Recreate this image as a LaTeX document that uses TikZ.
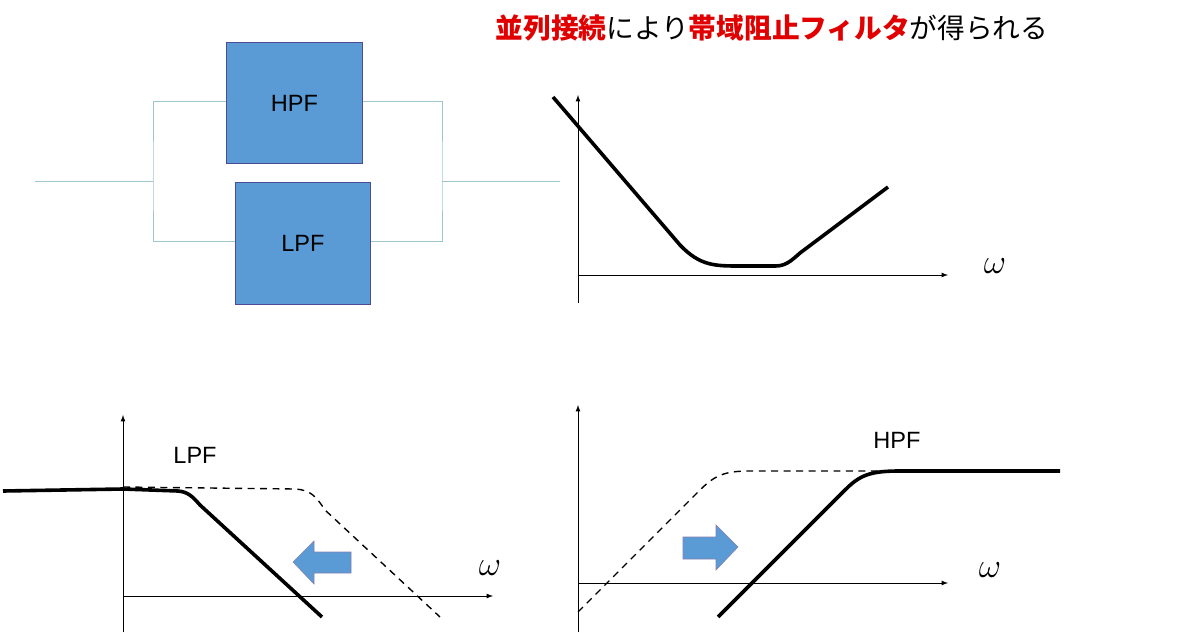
\documentclass[tikz,border=0pt]{standalone}
\usepackage{fontspec}
\setmainfont{Liberation Sans}
\newfontfamily\cjk{Noto Sans CJK JP}
\begin{document}
\begin{tikzpicture}[x=0.01in,y=-0.01in,
  blk/.style={draw=blue!40!black!70, fill=boxblue, line width=0.6pt, anchor=north west, inner sep=0pt},
  wire/.style={draw=wirec, line width=0.6pt},
  ax/.style={draw=black, line width=0.6pt, -latex},
  curve/.style={line width=2.6pt, line join=round},
  dashline/.style={line width=1pt, dash pattern=on 5pt off 4pt},
  lbl/.style={font=\fontsize{17}{17}\selectfont},
  om/.style={font=\fontsize{26}{26}\selectfont},
  fat/.style={fill=boxblue, draw=blue!40!black!50, line width=0.4pt}]
\definecolor{boxblue}{HTML}{5B9BD5}
\definecolor{wirec}{HTML}{9FC6CC}
\definecolor{tred}{HTML}{E00000}
\useasboundingbox (0,0) rectangle (1200,633);
\node[font=\cjk\fontsize{20}{20}\selectfont] (title) at (772,28) {\textcolor{tred}{\textbf{並列接続}}により\textcolor{tred}{\textbf{帯域阻止フィルタ}}が得られる};
\node[blk, minimum width=1.36in, minimum height=1.21in] (hpf) at (226,42) {};
\node[lbl] at (hpf.center) {HPF};
\node[blk, minimum width=1.35in, minimum height=1.22in] (lpf) at (235,182) {};
\node[lbl] at (lpf.center) {LPF};
\coordinate (in) at (35,181); \coordinate (jl) at (153,181);
\coordinate (jr) at (442,181); \coordinate (out) at (560,181);
\draw[wire] (in) -- (jl);
\draw[wire] (hpf.west |- 0,101) -| (jl) |- (lpf.west |- 0,241);
\draw[wire] (hpf.east |- 0,101) -| (jr) |- (lpf.east |- 0,241);
\draw[wire] (jr) -- (out);
% top-right graph
\coordinate (o1) at (578,275);
\draw[ax] (578,303) -- (578,95);
\draw[ax] (o1) -- (948,275);
\draw[curve] (553,97) -- (680,245) .. controls (700,266) and (715,266) .. (740,266) -- (775,266) .. controls (785,266) and (790,262) .. (800,253) -- (888,187);
\node[om] (w1) at (995,266) {$\omega$};
% bottom-left
\draw[ax] (123,632) -- (123,415);
\draw[ax] (123,596) -- (493,596);
\draw[dashline] (123,487) -- (295,489) .. controls (310,490) and (315,495) .. (325,510) -- (440,617);
\draw[curve] (3,491) -- (123,489) -- (178,491) .. controls (188,492) and (192,496) .. (200,505) -- (322,617);
\node[lbl] (l1) at (195,455) {LPF};
\node[om] (w2) at (490,568) {$\omega$};
\draw[fat] (293,562) -- (314,541) -- (314,552) -- (351,552) -- (351,573) -- (314,573) -- (314,584) -- cycle;
% bottom-right
\draw[ax] (578,632) -- (578,405);
\draw[ax] (578,583) -- (948,583);
\draw[dashline] (578,612) -- (700,490) .. controls (715,475) and (725,471) .. (750,471) -- (900,471);
\draw[curve] (718,617) -- (845,490) .. controls (860,475) and (870,471) .. (900,471) -- (1060,471);
\node[lbl] (h1) at (897,440) {HPF};
\node[om] (w3) at (990,570) {$\omega$};
\draw[fat] (738,547) -- (716,525) -- (716,537) -- (683,537) -- (683,559) -- (716,559) -- (716,570) -- cycle;
\end{tikzpicture}
\end{document}
